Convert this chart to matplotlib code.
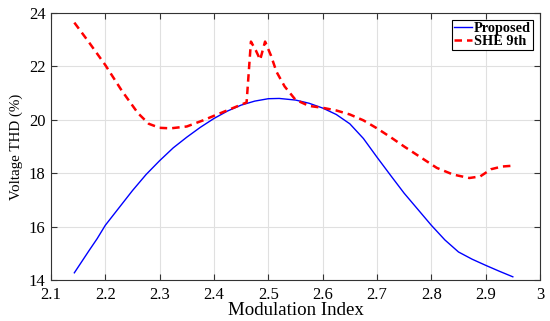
import matplotlib
matplotlib.use("Agg")
import matplotlib.pyplot as plt

prop_x = [2.143, 2.17, 2.185, 2.2, 2.225, 2.25, 2.275, 2.3, 2.325, 2.35, 2.375, 2.4, 2.425,
          2.45, 2.475, 2.5, 2.52, 2.55, 2.575, 2.6, 2.625, 2.65, 2.675, 2.7, 2.725, 2.75,
          2.775, 2.8, 2.825, 2.85, 2.875, 2.9, 2.925, 2.95]
prop_y = [14.27, 15.1, 15.55, 16.05, 16.7, 17.35, 17.95, 18.47, 18.95, 19.35, 19.72, 20.05, 20.33,
          20.55, 20.7, 20.79, 20.8, 20.74, 20.62, 20.44, 20.2, 19.85, 19.3, 18.6, 17.92, 17.25,
          16.65, 16.05, 15.5, 15.05, 14.78, 14.55, 14.33, 14.12]

she_x = [2.143, 2.17, 2.2, 2.23, 2.26, 2.28, 2.3, 2.32, 2.35, 2.38, 2.4, 2.43, 2.46, 2.468,
         2.477, 2.485, 2.494, 2.505, 2.515, 2.53, 2.55, 2.575, 2.6, 2.625, 2.65, 2.675, 2.7,
         2.725, 2.75, 2.78, 2.81, 2.84, 2.87, 2.89, 2.91, 2.93, 2.95]
she_y = [23.64, 22.9, 22.05, 21.1, 20.25, 19.85, 19.7, 19.68, 19.75, 19.98, 20.15, 20.4, 20.65,
         22.93, 22.6, 22.25, 22.93, 22.4, 21.8, 21.25, 20.75, 20.52, 20.45, 20.35, 20.2, 19.98,
         19.68, 19.35, 19.0, 18.6, 18.2, 17.95, 17.82, 17.88, 18.15, 18.25, 18.28]

xticks = [2.1, 2.2, 2.3, 2.4, 2.5, 2.6, 2.7, 2.8, 2.9, 3.0]
xticklabels = ["2.1", "2.2", "2.3", "2.4", "2.5", "2.6", "2.7", "2.8", "2.9", "3"]
yticks = [14, 16, 18, 20, 22, 24]

plt.rcParams['font.family'] = ['Liberation Serif', 'DejaVu Serif']

fig = plt.figure(figsize=(5.5, 3.21), dpi=100)
ax = fig.add_axes([0.0927, 0.1277, 0.8891, 0.8318])

ax.plot(prop_x, prop_y, color='#0000ff', lw=1.0, label='Proposed')
ax.plot(she_x, she_y, color='#ff0000', lw=1.8, ls=(0, (3, 2)), label='SHE 9th')

ax.set_xlim(2.1, 3.0)
ax.set_ylim(14, 24)
ax.set_xticks(xticks)
ax.set_xticklabels(xticklabels)
ax.set_yticks(yticks)
ax.grid(True, color='#e0e0e0', lw=0.8)
ax.tick_params(direction='in', top=True, right=True, labelsize=12, length=4,
               color='#333333')
ax.tick_params(axis='x', pad=5)
ax.tick_params(axis='y', pad=4)
for s in ax.spines.values():
    s.set_color('#333333')
    s.set_linewidth(0.8)

ax.set_xlabel('Modulation Index', fontsize=13.6, labelpad=-1)
ax.set_ylabel('Voltage THD (%)', fontsize=10.8, labelpad=4)

leg = ax.legend(loc='upper right', fancybox=False, edgecolor='black', framealpha=1,
                prop={'weight': 'bold', 'size': 10.3}, handlelength=1.2, handletextpad=0.15,
                borderpad=0.15, labelspacing=0.0, borderaxespad=0.5)
leg.get_frame().set_linewidth(0.8)

fig.savefig('out.png', dpi=100)
